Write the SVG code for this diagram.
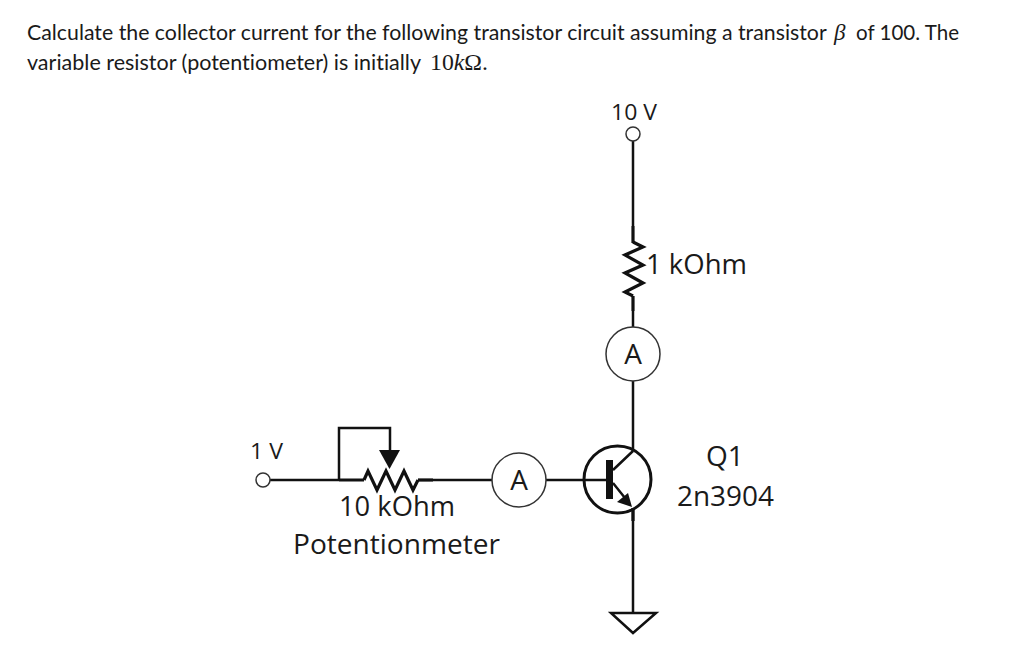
<svg xmlns="http://www.w3.org/2000/svg" width="1024" height="654" viewBox="0 0 1024 654">
<style>
text{fill:#1a1a1a;font-family:"Lato","Liberation Sans",sans-serif;font-size:22px;font-variant-ligatures:none}
.q1{font-size:21.3px}
.lab{font-family:"Open Sans","Liberation Sans",sans-serif;font-size:28px}
.sm{font-family:"Open Sans","Liberation Sans",sans-serif;font-size:22px}
.m{font-family:"Liberation Serif",serif;font-size:23px}
.w{fill:none;stroke:#111;stroke-width:2.5}
.t{fill:none;stroke:#111;stroke-width:3.2}
.c{fill:#fff;stroke:#333;stroke-width:1.5}
</style>
<g id="question">
<text class="q1" x="27" y="40">Calculate the collector current for the following transistor circuit assuming a transistor</text>
<text class="m" x="834" y="40" font-style="italic">β</text>
<text x="856" y="40" textLength="103" lengthAdjust="spacingAndGlyphs">of 100. The</text>
<text x="27" y="70" textLength="394" lengthAdjust="spacingAndGlyphs">variable resistor (potentiometer) is initially</text>
<text class="m" x="430" y="70" textLength="58" lengthAdjust="spacingAndGlyphs">10<tspan font-style="italic">k</tspan>Ω.</text>
</g>
<g id="connectors">
<path class="w" d="M633 141V226M633 311V327M633 381V451M633 508V613M270 480H339M339 480V428H390V452M418 480H492M546 480H606"/>
<path class="t" d="M633 226V243M633 296V311M633 508V521M339 480H364M418 480H433"/>
</g>
<g id="terminal-1v"><circle class="c" cx="263" cy="480" r="7"/><text class="sm" x="250" y="459" textLength="33" lengthAdjust="spacingAndGlyphs">1 V</text></g>
<g id="terminal-10v"><circle class="c" cx="633" cy="134" r="7"/><text class="sm" x="611" y="120" textLength="46" lengthAdjust="spacingAndGlyphs">10 V</text></g>
<g id="potentiometer">
<path class="t" d="M364 480L368 471L377 490L386 471L395 490L404 471L413 490L418 480"/>
<path d="M379 450H400L389.500 469Z" fill="#111"/>
<text class="lab" x="339" y="516" textLength="116" lengthAdjust="spacingAndGlyphs">10 kOhm</text>
<text class="lab" x="293" y="554" textLength="207" lengthAdjust="spacingAndGlyphs">Potentionmeter</text>
</g>
<g id="ammeter-base"><circle class="c" cx="519" cy="480" r="27"/><text class="lab" x="519" y="490" text-anchor="middle">A</text></g>
<g id="resistor">
<path class="t" d="M633 242L643 247L625 255L643 265L625 273L643 283L625 292L633 296"/>
<text class="lab" x="646" y="274" textLength="101" lengthAdjust="spacingAndGlyphs">1 kOhm</text>
</g>
<g id="ammeter-collector"><circle class="c" cx="633" cy="354" r="27"/><text class="lab" x="633" y="364" text-anchor="middle">A</text></g>
<g id="q1">
<circle cx="617.500" cy="479.500" r="33.500" fill="none" stroke="#111" stroke-width="3"/>
<rect x="606" y="460" width="7" height="39" fill="#111"/>
<path class="w" d="M613 470L633 451M613 483L625 498"/>
<path d="M632 507L628 493L617 502Z" fill="#111"/>
<text class="lab" x="725" y="466" text-anchor="middle">Q1</text>
<text class="lab" x="677" y="506" textLength="97" lengthAdjust="spacingAndGlyphs">2n3904</text>
</g>
<g id="ground"><path class="w" d="M611 613H656L633 633Z"/></g>
</svg>
